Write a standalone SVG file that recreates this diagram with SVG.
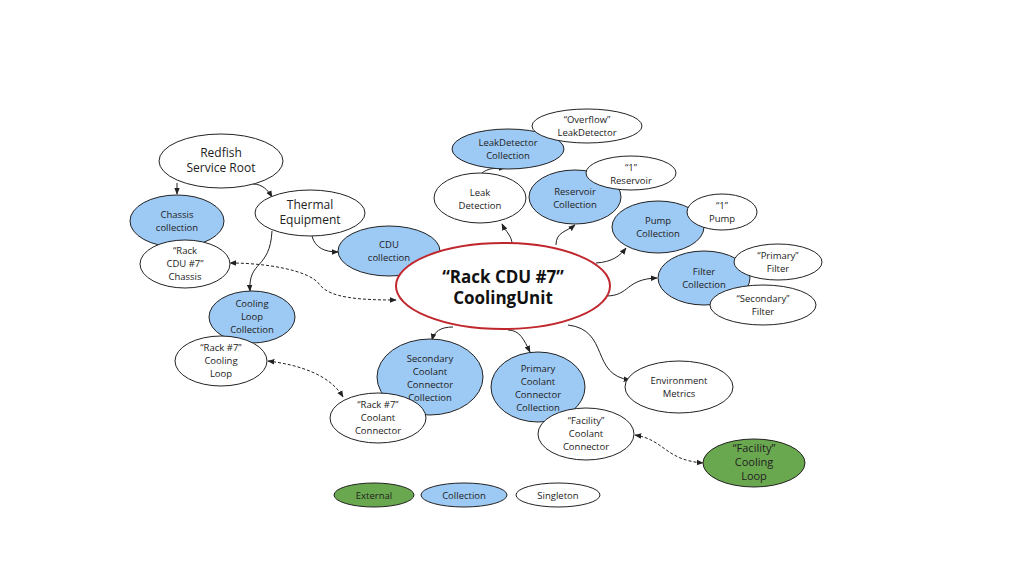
<svg xmlns="http://www.w3.org/2000/svg" width="1024" height="576" viewBox="0 0 1024 576">
<style>
.w{fill:#fff;stroke:#222;stroke-width:1}
.b{fill:#9dc9f5;stroke:#222;stroke-width:1}
.g{fill:#6aa84f;stroke:#222;stroke-width:1}
text{font-family:"Open Sans","Noto Sans",sans-serif;font-size:9.5px;fill:#222;text-anchor:middle}
.l{font-size:12px}
.f{font-size:11px}
.m{font-size:17px;font-weight:bold;fill:#111}
.c path{fill:none;stroke:#222;stroke-width:1}
.c .d{stroke-dasharray:3 2}
</style>
<defs>
<marker id="a" viewBox="0 0 10 10" refX="9" refY="5" markerWidth="7" markerHeight="7" orient="auto-start-reverse"><path d="M0,1L10,5L0,9z" fill="#222"/></marker>
</defs>
<rect width="1024" height="576" fill="#fff"/>
<g class="c">
<path d="M177,183V194" marker-end="url(#a)"/>
<path d="M253,184C262,184 268,190 272,197" marker-end="url(#a)"/>
<path d="M312,236C315,248 325,252 338,252" marker-end="url(#a)"/>
<path d="M272,231C270,270 248,260 250,291" marker-end="url(#a)"/>
<path class="d" d="M396,300C360,300 330,298 320,285C310,270 265,263 230,263" marker-start="url(#a)" marker-end="url(#a)"/>
<path d="M512,244C512,236 506,232 502,224" marker-end="url(#a)"/>
<path d="M482,173C488,168 496,168 505,168" marker-end="url(#a)"/>
<path d="M556,245C556,232 566,232 575,225" marker-end="url(#a)"/>
<path d="M596,263C612,262 620,256 626,248" marker-end="url(#a)"/>
<path d="M606,296C630,296 625,279 657,278" marker-end="url(#a)"/>
<path d="M453,327C440,327 434,332 432,340" marker-end="url(#a)"/>
<path d="M508,330C520,330 524,340 530,352" marker-end="url(#a)"/>
<path d="M568,325C610,330 590,375 630,380" marker-end="url(#a)"/>
<path class="d" d="M268,361C300,365 330,375 343,397" marker-start="url(#a)" marker-end="url(#a)"/>
<path class="d" d="M635,435C665,440 665,460 703,463" marker-start="url(#a)" marker-end="url(#a)"/>
</g>
<g id="root"><ellipse class="w" cx="221" cy="161" rx="62" ry="27"/><text class="l" x="221" y="157">Redfish</text><text class="l" x="221" y="172">Service Root</text></g>
<g id="chassisCol"><ellipse class="b" cx="177" cy="221" rx="47" ry="26"/><text x="177" y="218">Chassis</text><text x="177" y="231">collection</text></g>
<g id="chassis"><ellipse class="w" cx="185" cy="264" rx="45" ry="24"/><text x="185" y="254">“Rack</text><text x="185" y="267">CDU #7”</text><text x="185" y="280">Chassis</text></g>
<g id="thermal"><ellipse class="w" cx="310" cy="213" rx="55" ry="23"/><text class="l" x="310" y="209">Thermal</text><text class="l" x="310" y="224">Equipment</text></g>
<g id="cduCol"><ellipse class="b" cx="389" cy="251" rx="51" ry="25"/><text x="389" y="248">CDU</text><text x="389" y="261">collection</text></g>
<g id="loopCol"><ellipse class="b" cx="252" cy="317" rx="43" ry="26"/><text x="252" y="307">Cooling</text><text x="252" y="320">Loop</text><text x="252" y="333">Collection</text></g>
<g id="loop"><ellipse class="w" cx="221" cy="361" rx="46" ry="25"/><text x="221" y="351">“Rack #7”</text><text x="221" y="364">Cooling</text><text x="221" y="377">Loop</text></g>
<g id="leakDetCol"><ellipse class="b" cx="508" cy="149" rx="56" ry="20"/><text x="508" y="146">LeakDetector</text><text x="508" y="159">Collection</text></g>
<g id="overflow"><ellipse class="w" cx="587" cy="126" rx="55" ry="17"/><text x="587" y="123">“Overflow”</text><text x="587" y="136">LeakDetector</text></g>
<g id="leak"><ellipse class="w" cx="480" cy="198" rx="46" ry="25"/><text x="480" y="196">Leak</text><text x="480" y="209">Detection</text></g>
<g id="resCol"><ellipse class="b" cx="575" cy="197" rx="46" ry="27"/><text x="575" y="195">Reservoir</text><text x="575" y="208">Collection</text></g>
<g id="res"><ellipse class="w" cx="631" cy="173" rx="45" ry="17"/><text x="631" y="171">“1”</text><text x="631" y="184">Reservoir</text></g>
<g id="pumpCol"><ellipse class="b" cx="658" cy="227" rx="46" ry="26"/><text x="658" y="224">Pump</text><text x="658" y="237">Collection</text></g>
<g id="pump"><ellipse class="w" cx="722" cy="212" rx="35" ry="18"/><text x="722" y="209">“1”</text><text x="722" y="222">Pump</text></g>
<g id="filterCol"><ellipse class="b" cx="704" cy="278" rx="46" ry="27"/><text x="704" y="275">Filter</text><text x="704" y="288">Collection</text></g>
<g id="pfilter"><ellipse class="w" cx="778" cy="262" rx="44" ry="18"/><text x="778" y="259">“Primary”</text><text x="778" y="272">Filter</text></g>
<g id="sfilter"><ellipse class="w" cx="763" cy="305" rx="53" ry="20"/><text x="763" y="302">“Secondary”</text><text x="763" y="315">Filter</text></g>
<g id="main"><ellipse cx="503" cy="286" rx="107" ry="43" fill="#fff" stroke="#c0272d" stroke-width="2"/><text class="m" x="503" y="283">“Rack CDU #7”</text><text class="m" x="503" y="304">CoolingUnit</text></g>
<g id="secCol"><ellipse class="b" cx="430" cy="377" rx="53" ry="38"/><text x="430" y="362">Secondary</text><text x="430" y="375">Coolant</text><text x="430" y="388">Connector</text><text x="430" y="401">Collection</text></g>
<g id="secConn"><ellipse class="w" cx="378" cy="418" rx="48" ry="25"/><text x="378" y="408">“Rack #7”</text><text x="378" y="421">Coolant</text><text x="378" y="434">Connector</text></g>
<g id="priCol"><ellipse class="b" cx="538" cy="387" rx="47" ry="35"/><text x="538" y="372">Primary</text><text x="538" y="385">Coolant</text><text x="538" y="398">Connector</text><text x="538" y="411">Collection</text></g>
<g id="facConn"><ellipse class="w" cx="586" cy="434" rx="48" ry="26"/><text x="586" y="424">“Facility”</text><text x="586" y="437">Coolant</text><text x="586" y="450">Connector</text></g>
<g id="env"><ellipse class="w" cx="679" cy="387" rx="54" ry="26"/><text x="679" y="384">Environment</text><text x="679" y="397">Metrics</text></g>
<g id="facLoop"><ellipse class="g" cx="754" cy="463" rx="51" ry="24"/><text class="f" x="754" y="452">“Facility”</text><text class="f" x="754" y="466">Cooling</text><text class="f" x="754" y="480">Loop</text></g>
<g id="legend">
<ellipse class="g" cx="374" cy="495" rx="40" ry="12"/><text x="374" y="499">External</text>
<ellipse class="b" cx="464" cy="495" rx="43" ry="12"/><text x="464" y="499">Collection</text>
<ellipse class="w" cx="558" cy="495" rx="42" ry="12"/><text x="558" y="499">Singleton</text>
</g>
</svg>
